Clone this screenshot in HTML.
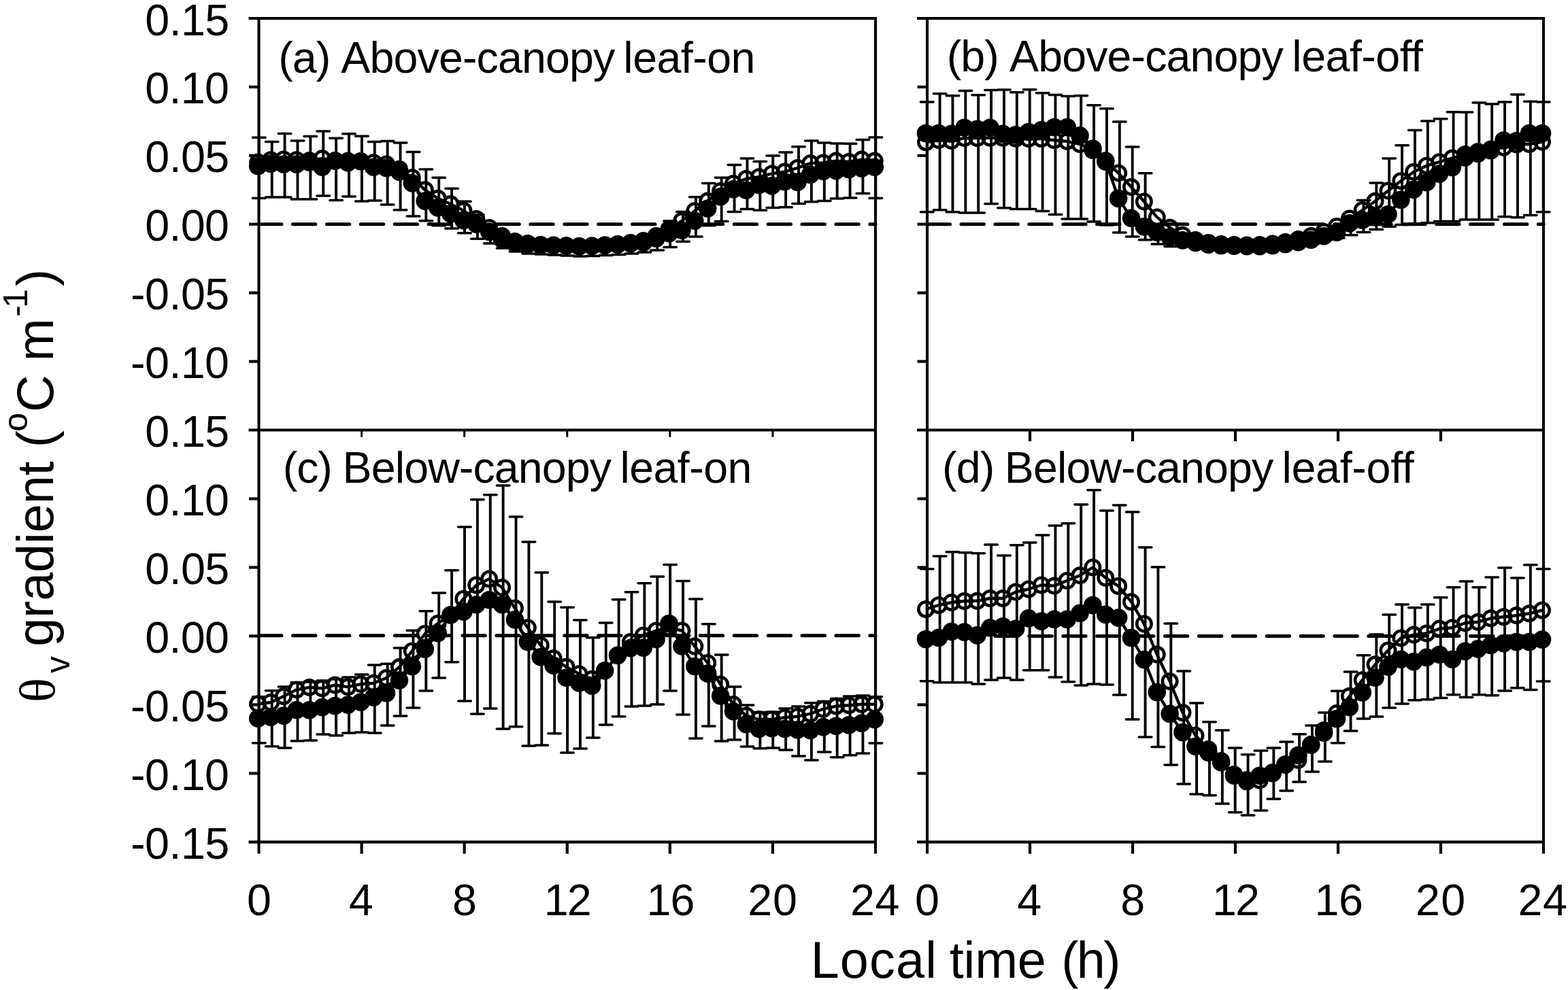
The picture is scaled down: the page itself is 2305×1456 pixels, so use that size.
<!DOCTYPE html>
<html lang="en"><head><meta charset="utf-8"><title>Potential temperature gradient, diel cycle</title>
<style>html,body{margin:0;padding:0;background:#fff}body{width:2305px;height:1456px;overflow:hidden}svg{display:block}text{font-family:'Liberation Sans', sans-serif;fill:#000}</style>
</head><body>
<svg width="2305" height="1456" viewBox="0 0 2305 1456" role="img" aria-label="Diel cycle of potential temperature gradient, four panels">
<rect width="2305" height="1456" fill="#fff"/>
<g id="panel-a" stroke="#000" fill="none">
<line x1="380.6" y1="329.7" x2="1287" y2="329.7" stroke-width="5" stroke-dasharray="33.4 16.5" stroke-linecap="round"/>
<path d="M380.8 202.2V291.5M399.69 208.5V290.1M418.57 196.4V290.1M437.46 207.1V292.9M456.34 200.5V292.9M475.23 192.9V288M494.11 203.3V294.5M513 196.8V289M531.88 200.3V296.1M550.77 208.5V294.9M569.65 207.5V300.9M588.54 210V308.8M607.42 223.5V317.9M626.31 249.1V324.8M645.2 261.2V331.7M664.08 277.3V335.9M682.97 296.3V342.8M701.85 316V351.2M720.74 334.8V358.1M739.62 345.9V365M758.51 351.4V370M777.39 353.2V373M796.28 354.5V374M815.16 354.9V375M834.05 355.6V376M852.94 356.3V377M871.82 355.9V376.5M890.71 354.9V375.5M909.59 353.5V374.5M928.48 352.1V373M947.36 350.7V371M966.25 344.5V368M985.13 325V363.4M1004.02 311.6V355.3M1022.9 289.7V348M1041.79 269.5V331.7M1060.67 261.2V325.5M1079.56 242.5V311.6M1098.45 232.9V307.4M1117.33 237.6V309.2M1136.22 229V305.4M1155.1 223.9V304.7M1173.99 215.8V299.5M1192.87 207.1V296.8M1211.76 210V295.4M1230.64 211V291.9M1249.53 211.2V291.1M1268.41 205.4V284.5M1287.3 201.9V291.5" stroke-width="3.9" stroke-linecap="butt"/>
<path d="M371.5 202.2h18.6M371.5 291.5h18.6M390.39 208.5h18.6M390.39 290.1h18.6M409.27 196.4h18.6M409.27 290.1h18.6M428.16 207.1h18.6M428.16 292.9h18.6M447.04 200.5h18.6M447.04 292.9h18.6M465.93 192.9h18.6M465.93 288h18.6M484.81 203.3h18.6M484.81 294.5h18.6M503.7 196.8h18.6M503.7 289h18.6M522.58 200.3h18.6M522.58 296.1h18.6M541.47 208.5h18.6M541.47 294.9h18.6M560.35 207.5h18.6M560.35 300.9h18.6M579.24 210h18.6M579.24 308.8h18.6M598.12 223.5h18.6M598.12 317.9h18.6M617.01 249.1h18.6M617.01 324.8h18.6M635.9 261.2h18.6M635.9 331.7h18.6M654.78 277.3h18.6M654.78 335.9h18.6M673.67 296.3h18.6M673.67 342.8h18.6M692.55 316h18.6M692.55 351.2h18.6M711.44 334.8h18.6M711.44 358.1h18.6M730.32 345.9h18.6M730.32 365h18.6M749.21 351.4h18.6M749.21 370h18.6M768.09 353.2h18.6M768.09 373h18.6M786.98 354.5h18.6M786.98 374h18.6M805.86 354.9h18.6M805.86 375h18.6M824.75 355.6h18.6M824.75 376h18.6M843.64 356.3h18.6M843.64 377h18.6M862.52 355.9h18.6M862.52 376.5h18.6M881.41 354.9h18.6M881.41 375.5h18.6M900.29 353.5h18.6M900.29 374.5h18.6M919.18 352.1h18.6M919.18 373h18.6M938.06 350.7h18.6M938.06 371h18.6M956.95 344.5h18.6M956.95 368h18.6M975.83 325h18.6M975.83 363.4h18.6M994.72 311.6h18.6M994.72 355.3h18.6M1013.6 289.7h18.6M1013.6 348h18.6M1032.49 269.5h18.6M1032.49 331.7h18.6M1051.38 261.2h18.6M1051.38 325.5h18.6M1070.26 242.5h18.6M1070.26 311.6h18.6M1089.15 232.9h18.6M1089.15 307.4h18.6M1108.03 237.6h18.6M1108.03 309.2h18.6M1126.92 229h18.6M1126.92 305.4h18.6M1145.8 223.9h18.6M1145.8 304.7h18.6M1164.69 215.8h18.6M1164.69 299.5h18.6M1183.57 207.1h18.6M1183.57 296.8h18.6M1202.46 210h18.6M1202.46 295.4h18.6M1221.34 211h18.6M1221.34 291.9h18.6M1240.23 211.2h18.6M1240.23 291.1h18.6M1259.11 205.4h18.6M1259.11 284.5h18.6M1278 201.9h18.6M1278 291.5h18.6" stroke-width="3.5" stroke-linecap="round"/>
<polyline points="379.2,238.6 398.09,235.2 416.97,234.5 435.86,235.2 454.74,235.9 473.63,233.1 492.51,236 511.4,236.5 530.28,237.2 549.17,239.3 568.05,241.4 586.94,248.7 605.83,261.2 624.71,279.3 643.6,291.8 662.48,300.1 681.37,309.8 700.25,322 719.14,335 738.02,347 756.91,355 775.79,358 794.68,360 813.56,361 832.45,361.5 851.34,362 870.22,361.5 889.11,360.5 907.99,359 926.88,357 945.76,354 964.65,347 983.53,337 1002.42,324.8 1021.3,310.2 1040.19,295.6 1059.08,281.1 1077.96,270 1096.85,263 1115.73,260.2 1134.62,255.4 1153.5,252.6 1172.39,247 1191.27,240.1 1210.16,239.4 1229.04,236.6 1247.93,238 1266.81,234.6 1285.7,236.6" stroke-width="4.4" stroke-linejoin="round"/>
<polyline points="379.2,244.3 398.09,240.8 416.97,241.5 435.86,241.5 454.74,238.7 473.63,245.7 492.51,236.6 511.4,239.4 530.28,237.3 549.17,245.7 568.05,247 586.94,252.6 605.83,269.3 624.71,295.6 643.6,305.4 662.48,314.4 681.37,324.1 700.25,329.7 719.14,340.8 738.02,351.9 756.91,357.4 775.79,359.2 794.68,360.5 813.56,360.9 832.45,361.6 851.34,362.3 870.22,361.9 889.11,360.9 907.99,359.5 926.88,358.1 945.76,356.7 964.65,350.5 983.53,343 1002.42,338.7 1021.3,324.8 1040.19,306.7 1059.08,289.4 1077.96,278.3 1096.85,279.7 1115.73,272 1134.62,273.4 1153.5,267.2 1172.39,267.9 1191.27,256.8 1210.16,251.9 1229.04,251.2 1247.93,249.1 1266.81,247.7 1285.7,245.7" stroke-width="4.4" stroke-linejoin="round"/>
<g stroke-width="4.6"><circle cx="379.2" cy="238.6" r="10.7"/><circle cx="398.09" cy="235.2" r="10.7"/><circle cx="416.97" cy="234.5" r="10.7"/><circle cx="435.86" cy="235.2" r="10.7"/><circle cx="454.74" cy="235.9" r="10.7"/><circle cx="473.63" cy="233.1" r="10.7"/><circle cx="492.51" cy="236" r="10.7"/><circle cx="511.4" cy="236.5" r="10.7"/><circle cx="530.28" cy="237.2" r="10.7"/><circle cx="549.17" cy="239.3" r="10.7"/><circle cx="568.05" cy="241.4" r="10.7"/><circle cx="586.94" cy="248.7" r="10.7"/><circle cx="605.83" cy="261.2" r="10.7"/><circle cx="624.71" cy="279.3" r="10.7"/><circle cx="643.6" cy="291.8" r="10.7"/><circle cx="662.48" cy="300.1" r="10.7"/><circle cx="681.37" cy="309.8" r="10.7"/><circle cx="700.25" cy="322" r="10.7"/><circle cx="719.14" cy="335" r="10.7"/><circle cx="738.02" cy="347" r="10.7"/><circle cx="756.91" cy="355" r="10.7"/><circle cx="775.79" cy="358" r="10.7"/><circle cx="794.68" cy="360" r="10.7"/><circle cx="813.56" cy="361" r="10.7"/><circle cx="832.45" cy="361.5" r="10.7"/><circle cx="851.34" cy="362" r="10.7"/><circle cx="870.22" cy="361.5" r="10.7"/><circle cx="889.11" cy="360.5" r="10.7"/><circle cx="907.99" cy="359" r="10.7"/><circle cx="926.88" cy="357" r="10.7"/><circle cx="945.76" cy="354" r="10.7"/><circle cx="964.65" cy="347" r="10.7"/><circle cx="983.53" cy="337" r="10.7"/><circle cx="1002.42" cy="324.8" r="10.7"/><circle cx="1021.3" cy="310.2" r="10.7"/><circle cx="1040.19" cy="295.6" r="10.7"/><circle cx="1059.08" cy="281.1" r="10.7"/><circle cx="1077.96" cy="270" r="10.7"/><circle cx="1096.85" cy="263" r="10.7"/><circle cx="1115.73" cy="260.2" r="10.7"/><circle cx="1134.62" cy="255.4" r="10.7"/><circle cx="1153.5" cy="252.6" r="10.7"/><circle cx="1172.39" cy="247" r="10.7"/><circle cx="1191.27" cy="240.1" r="10.7"/><circle cx="1210.16" cy="239.4" r="10.7"/><circle cx="1229.04" cy="236.6" r="10.7"/><circle cx="1247.93" cy="238" r="10.7"/><circle cx="1266.81" cy="234.6" r="10.7"/><circle cx="1285.7" cy="236.6" r="10.7"/></g>
<g fill="#000" stroke="none"><circle cx="379.2" cy="244.3" r="13.3"/><circle cx="398.09" cy="240.8" r="13.3"/><circle cx="416.97" cy="241.5" r="13.3"/><circle cx="435.86" cy="241.5" r="13.3"/><circle cx="454.74" cy="238.7" r="13.3"/><circle cx="473.63" cy="245.7" r="13.3"/><circle cx="492.51" cy="236.6" r="13.3"/><circle cx="511.4" cy="239.4" r="13.3"/><circle cx="530.28" cy="237.3" r="13.3"/><circle cx="549.17" cy="245.7" r="13.3"/><circle cx="568.05" cy="247" r="13.3"/><circle cx="586.94" cy="252.6" r="13.3"/><circle cx="605.83" cy="269.3" r="13.3"/><circle cx="624.71" cy="295.6" r="13.3"/><circle cx="643.6" cy="305.4" r="13.3"/><circle cx="662.48" cy="314.4" r="13.3"/><circle cx="681.37" cy="324.1" r="13.3"/><circle cx="700.25" cy="329.7" r="13.3"/><circle cx="719.14" cy="340.8" r="13.3"/><circle cx="738.02" cy="351.9" r="13.3"/><circle cx="756.91" cy="357.4" r="13.3"/><circle cx="775.79" cy="359.2" r="13.3"/><circle cx="794.68" cy="360.5" r="13.3"/><circle cx="813.56" cy="360.9" r="13.3"/><circle cx="832.45" cy="361.6" r="13.3"/><circle cx="851.34" cy="362.3" r="13.3"/><circle cx="870.22" cy="361.9" r="13.3"/><circle cx="889.11" cy="360.9" r="13.3"/><circle cx="907.99" cy="359.5" r="13.3"/><circle cx="926.88" cy="358.1" r="13.3"/><circle cx="945.76" cy="356.7" r="13.3"/><circle cx="964.65" cy="350.5" r="13.3"/><circle cx="983.53" cy="343" r="13.3"/><circle cx="1002.42" cy="338.7" r="13.3"/><circle cx="1021.3" cy="324.8" r="13.3"/><circle cx="1040.19" cy="306.7" r="13.3"/><circle cx="1059.08" cy="289.4" r="13.3"/><circle cx="1077.96" cy="278.3" r="13.3"/><circle cx="1096.85" cy="279.7" r="13.3"/><circle cx="1115.73" cy="272" r="13.3"/><circle cx="1134.62" cy="273.4" r="13.3"/><circle cx="1153.5" cy="267.2" r="13.3"/><circle cx="1172.39" cy="267.9" r="13.3"/><circle cx="1191.27" cy="256.8" r="13.3"/><circle cx="1210.16" cy="251.9" r="13.3"/><circle cx="1229.04" cy="251.2" r="13.3"/><circle cx="1247.93" cy="249.1" r="13.3"/><circle cx="1266.81" cy="247.7" r="13.3"/><circle cx="1285.7" cy="245.7" r="13.3"/></g>
</g>
<g id="panel-b" stroke="#000" fill="none">
<line x1="1363.1" y1="329.7" x2="2269" y2="329.7" stroke-width="5" stroke-dasharray="33.4 16.5" stroke-linecap="round"/>
<path d="M1362.7 150V311.8M1381.58 137.8V308.7M1400.45 140.8V311.8M1419.33 133.6V313.1M1438.2 139.8V313.1M1457.08 132.6V299.7M1475.95 131.9V305.8M1494.83 135.7V307.6M1513.7 131.8V307.6M1532.58 136.7V310.6M1551.45 139.6V315.6M1570.33 141.6V321.9M1589.2 140.8V321.9M1608.08 154.7V326.1M1626.95 159.7V331M1645.83 179V341.9M1664.7 216V347.9M1683.58 254.8V352.7M1702.45 337.6V359M1721.33 344.5V362.4M1740.2 349.4V359.4M1759.08 352.9V362.9M1777.95 355.7V365.7M1796.83 357V367M1815.7 357.7V367.7M1834.58 358.2V368.2M1853.45 358.2V368.2M1872.33 357V367M1891.2 355V365M1910.08 352.2V362.2M1928.95 348.7V358.7M1947.83 343.2V353.2M1966.7 337.6V350M1985.58 324.4V345.8M2004.45 294.6V341.6M2023.33 269V337.4M2042.2 232.9V333.3M2061.07 213.8V330.5M2079.95 191.5V329M2098.82 178V327.7M2117.7 174.8V325.6M2136.57 164.8V325.6M2155.45 165.1V322.9M2174.32 151V322.9M2193.2 153V322.9M2212.07 150V318.7M2230.95 138.9V319.7M2249.82 149.3V316.6M2268.7 150V311.8" stroke-width="3.9" stroke-linecap="butt"/>
<path d="M1353.4 150h18.6M1353.4 311.8h18.6M1372.28 137.8h18.6M1372.28 308.7h18.6M1391.15 140.8h18.6M1391.15 311.8h18.6M1410.03 133.6h18.6M1410.03 313.1h18.6M1428.9 139.8h18.6M1428.9 313.1h18.6M1447.78 132.6h18.6M1447.78 299.7h18.6M1466.65 131.9h18.6M1466.65 305.8h18.6M1485.53 135.7h18.6M1485.53 307.6h18.6M1504.4 131.8h18.6M1504.4 307.6h18.6M1523.28 136.7h18.6M1523.28 310.6h18.6M1542.15 139.6h18.6M1542.15 315.6h18.6M1561.03 141.6h18.6M1561.03 321.9h18.6M1579.9 140.8h18.6M1579.9 321.9h18.6M1598.78 154.7h18.6M1598.78 326.1h18.6M1617.65 159.7h18.6M1617.65 331h18.6M1636.53 179h18.6M1636.53 341.9h18.6M1655.4 216h18.6M1655.4 347.9h18.6M1674.28 254.8h18.6M1674.28 352.7h18.6M1693.15 337.6h18.6M1693.15 359h18.6M1712.03 344.5h18.6M1712.03 362.4h18.6M1730.9 349.4h18.6M1730.9 359.4h18.6M1749.78 352.9h18.6M1749.78 362.9h18.6M1768.65 355.7h18.6M1768.65 365.7h18.6M1787.53 357h18.6M1787.53 367h18.6M1806.4 357.7h18.6M1806.4 367.7h18.6M1825.28 358.2h18.6M1825.28 368.2h18.6M1844.15 358.2h18.6M1844.15 368.2h18.6M1863.03 357h18.6M1863.03 367h18.6M1881.9 355h18.6M1881.9 365h18.6M1900.78 352.2h18.6M1900.78 362.2h18.6M1919.65 348.7h18.6M1919.65 358.7h18.6M1938.53 343.2h18.6M1938.53 353.2h18.6M1957.4 337.6h18.6M1957.4 350h18.6M1976.28 324.4h18.6M1976.28 345.8h18.6M1995.15 294.6h18.6M1995.15 341.6h18.6M2014.03 269h18.6M2014.03 337.4h18.6M2032.9 232.9h18.6M2032.9 333.3h18.6M2051.77 213.8h18.6M2051.77 330.5h18.6M2070.65 191.5h18.6M2070.65 329h18.6M2089.52 178h18.6M2089.52 327.7h18.6M2108.4 174.8h18.6M2108.4 325.6h18.6M2127.27 164.8h18.6M2127.27 325.6h18.6M2146.15 165.1h18.6M2146.15 322.9h18.6M2165.02 151h18.6M2165.02 322.9h18.6M2183.9 153h18.6M2183.9 322.9h18.6M2202.77 150h18.6M2202.77 318.7h18.6M2221.65 138.9h18.6M2221.65 319.7h18.6M2240.52 149.3h18.6M2240.52 316.6h18.6M2259.4 150h18.6M2259.4 311.8h18.6" stroke-width="3.5" stroke-linecap="round"/>
<polyline points="1361,209.3 1379.88,206 1398.75,207 1417.62,203.1 1436.5,203.1 1455.38,202.7 1474.25,202.7 1493.12,203.8 1512,204.1 1530.88,204.1 1549.75,206.2 1568.62,207.9 1587.5,212.1 1606.38,221 1625.25,238 1644.12,254.4 1663,275 1681.88,296.5 1700.75,319.4 1719.62,334.7 1738.5,346 1757.38,353 1776.25,357 1795.12,359 1814,360 1832.88,360.5 1851.75,360 1870.62,358.5 1889.5,356 1908.38,352 1927.25,347 1946.12,341 1965,333 1983.88,321.5 2002.75,309 2021.62,295.8 2040.5,280.5 2059.38,266 2078.25,252.8 2097.12,243.7 2116,238.2 2134.88,232.6 2153.75,227 2172.62,223 2191.5,219.5 2210.38,216.9 2229.25,212.6 2248.12,212 2267,208.5" stroke-width="4.4" stroke-linejoin="round"/>
<polyline points="1361,196 1379.88,196 1398.75,196.8 1417.62,187.7 1436.5,189.8 1455.38,187.7 1474.25,196.8 1493.12,198.2 1512,194 1530.88,191.2 1549.75,187 1568.62,187 1587.5,199.4 1606.38,218.5 1625.25,236.6 1644.12,291.9 1663,320.8 1681.88,333.3 1700.75,341.6 1719.62,348.5 1738.5,353.4 1757.38,356.9 1776.25,359.7 1795.12,361 1814,361.7 1832.88,362.2 1851.75,362.2 1870.62,361 1889.5,359 1908.38,356.2 1927.25,352.7 1946.12,347.2 1965,341.6 1983.88,328.4 2002.75,323.6 2021.62,319.4 2040.5,315.2 2059.38,293.8 2078.25,278.9 2097.12,268.2 2116,255.6 2134.88,246 2153.75,231.5 2172.62,225.8 2191.5,221.3 2210.38,206.5 2229.25,207.2 2248.12,196 2267,196" stroke-width="4.4" stroke-linejoin="round"/>
<g stroke-width="4.6"><circle cx="1361" cy="209.3" r="10.7"/><circle cx="1379.88" cy="206" r="10.7"/><circle cx="1398.75" cy="207" r="10.7"/><circle cx="1417.62" cy="203.1" r="10.7"/><circle cx="1436.5" cy="203.1" r="10.7"/><circle cx="1455.38" cy="202.7" r="10.7"/><circle cx="1474.25" cy="202.7" r="10.7"/><circle cx="1493.12" cy="203.8" r="10.7"/><circle cx="1512" cy="204.1" r="10.7"/><circle cx="1530.88" cy="204.1" r="10.7"/><circle cx="1549.75" cy="206.2" r="10.7"/><circle cx="1568.62" cy="207.9" r="10.7"/><circle cx="1587.5" cy="212.1" r="10.7"/><circle cx="1606.38" cy="221" r="10.7"/><circle cx="1625.25" cy="238" r="10.7"/><circle cx="1644.12" cy="254.4" r="10.7"/><circle cx="1663" cy="275" r="10.7"/><circle cx="1681.88" cy="296.5" r="10.7"/><circle cx="1700.75" cy="319.4" r="10.7"/><circle cx="1719.62" cy="334.7" r="10.7"/><circle cx="1738.5" cy="346" r="10.7"/><circle cx="1757.38" cy="353" r="10.7"/><circle cx="1776.25" cy="357" r="10.7"/><circle cx="1795.12" cy="359" r="10.7"/><circle cx="1814" cy="360" r="10.7"/><circle cx="1832.88" cy="360.5" r="10.7"/><circle cx="1851.75" cy="360" r="10.7"/><circle cx="1870.62" cy="358.5" r="10.7"/><circle cx="1889.5" cy="356" r="10.7"/><circle cx="1908.38" cy="352" r="10.7"/><circle cx="1927.25" cy="347" r="10.7"/><circle cx="1946.12" cy="341" r="10.7"/><circle cx="1965" cy="333" r="10.7"/><circle cx="1983.88" cy="321.5" r="10.7"/><circle cx="2002.75" cy="309" r="10.7"/><circle cx="2021.62" cy="295.8" r="10.7"/><circle cx="2040.5" cy="280.5" r="10.7"/><circle cx="2059.38" cy="266" r="10.7"/><circle cx="2078.25" cy="252.8" r="10.7"/><circle cx="2097.12" cy="243.7" r="10.7"/><circle cx="2116" cy="238.2" r="10.7"/><circle cx="2134.88" cy="232.6" r="10.7"/><circle cx="2153.75" cy="227" r="10.7"/><circle cx="2172.62" cy="223" r="10.7"/><circle cx="2191.5" cy="219.5" r="10.7"/><circle cx="2210.38" cy="216.9" r="10.7"/><circle cx="2229.25" cy="212.6" r="10.7"/><circle cx="2248.12" cy="212" r="10.7"/><circle cx="2267" cy="208.5" r="10.7"/></g>
<g fill="#000" stroke="none"><circle cx="1361" cy="196" r="13.3"/><circle cx="1379.88" cy="196" r="13.3"/><circle cx="1398.75" cy="196.8" r="13.3"/><circle cx="1417.62" cy="187.7" r="13.3"/><circle cx="1436.5" cy="189.8" r="13.3"/><circle cx="1455.38" cy="187.7" r="13.3"/><circle cx="1474.25" cy="196.8" r="13.3"/><circle cx="1493.12" cy="198.2" r="13.3"/><circle cx="1512" cy="194" r="13.3"/><circle cx="1530.88" cy="191.2" r="13.3"/><circle cx="1549.75" cy="187" r="13.3"/><circle cx="1568.62" cy="187" r="13.3"/><circle cx="1587.5" cy="199.4" r="13.3"/><circle cx="1606.38" cy="218.5" r="13.3"/><circle cx="1625.25" cy="236.6" r="13.3"/><circle cx="1644.12" cy="291.9" r="13.3"/><circle cx="1663" cy="320.8" r="13.3"/><circle cx="1681.88" cy="333.3" r="13.3"/><circle cx="1700.75" cy="341.6" r="13.3"/><circle cx="1719.62" cy="348.5" r="13.3"/><circle cx="1738.5" cy="353.4" r="13.3"/><circle cx="1757.38" cy="356.9" r="13.3"/><circle cx="1776.25" cy="359.7" r="13.3"/><circle cx="1795.12" cy="361" r="13.3"/><circle cx="1814" cy="361.7" r="13.3"/><circle cx="1832.88" cy="362.2" r="13.3"/><circle cx="1851.75" cy="362.2" r="13.3"/><circle cx="1870.62" cy="361" r="13.3"/><circle cx="1889.5" cy="359" r="13.3"/><circle cx="1908.38" cy="356.2" r="13.3"/><circle cx="1927.25" cy="352.7" r="13.3"/><circle cx="1946.12" cy="347.2" r="13.3"/><circle cx="1965" cy="341.6" r="13.3"/><circle cx="1983.88" cy="328.4" r="13.3"/><circle cx="2002.75" cy="323.6" r="13.3"/><circle cx="2021.62" cy="319.4" r="13.3"/><circle cx="2040.5" cy="315.2" r="13.3"/><circle cx="2059.38" cy="293.8" r="13.3"/><circle cx="2078.25" cy="278.9" r="13.3"/><circle cx="2097.12" cy="268.2" r="13.3"/><circle cx="2116" cy="255.6" r="13.3"/><circle cx="2134.88" cy="246" r="13.3"/><circle cx="2153.75" cy="231.5" r="13.3"/><circle cx="2172.62" cy="225.8" r="13.3"/><circle cx="2191.5" cy="221.3" r="13.3"/><circle cx="2210.38" cy="206.5" r="13.3"/><circle cx="2229.25" cy="207.2" r="13.3"/><circle cx="2248.12" cy="196" r="13.3"/><circle cx="2267" cy="196" r="13.3"/></g>
</g>
<g id="panel-c" stroke="#000" fill="none">
<line x1="380.6" y1="934.8" x2="1287" y2="934.8" stroke-width="5" stroke-dasharray="33.4 16.5" stroke-linecap="round"/>
<path d="M380.8 1024.7V1092.8M399.69 1015.8V1097.7M418.57 1010V1100M437.46 1003.7V1089.8M456.34 1003V1089.1M475.23 1001V1079.9M494.11 999V1081.7M513 996V1077.9M531.88 991.9V1076.9M550.77 978V1077.9M569.65 976.2V1066.9M588.54 952.9V1053M607.42 927.3V1040.9M626.31 898.7V1015.9M645.2 872V997M664.08 838.8V973.8M682.97 775V1030.9M701.85 734.7V1050M720.74 727.8V1042M739.62 713.9V1071.9M758.51 760V1068.8M777.39 796.9V1096.9M796.28 841.9V1095.9M815.16 885V1078.8M834.05 893.3V1107M852.94 912.1V1101M871.82 937.7V1085.1M890.71 916V1065.9M909.59 881.8V1053.8M928.48 870.8V1039M947.36 857.8V1038M966.25 847.9V1036M985.13 830.5V1016M1004.02 854.6V1051.1M1022.9 881V1086M1041.79 917.7V1068M1060.67 962.9V1089.9M1079.56 1009.9V1087.9M1098.45 1036.9V1097.9M1117.33 1047.6V1100.8M1136.22 1046.9V1099.9M1155.1 1042V1102.9M1173.99 1039V1111.9M1192.87 1033.7V1118M1211.76 1031.6V1105.9M1230.64 1027.5V1113.8M1249.53 1024V1110.8M1268.41 1022.9V1108M1287.3 1024.7V1093.1" stroke-width="3.9" stroke-linecap="butt"/>
<path d="M371.5 1024.7h18.6M371.5 1092.8h18.6M390.39 1015.8h18.6M390.39 1097.7h18.6M409.27 1010h18.6M409.27 1100h18.6M428.16 1003.7h18.6M428.16 1089.8h18.6M447.04 1003h18.6M447.04 1089.1h18.6M465.93 1001h18.6M465.93 1079.9h18.6M484.81 999h18.6M484.81 1081.7h18.6M503.7 996h18.6M503.7 1077.9h18.6M522.58 991.9h18.6M522.58 1076.9h18.6M541.47 978h18.6M541.47 1077.9h18.6M560.35 976.2h18.6M560.35 1066.9h18.6M579.24 952.9h18.6M579.24 1053h18.6M598.12 927.3h18.6M598.12 1040.9h18.6M617.01 898.7h18.6M617.01 1015.9h18.6M635.9 872h18.6M635.9 997h18.6M654.78 838.8h18.6M654.78 973.8h18.6M673.67 775h18.6M673.67 1030.9h18.6M692.55 734.7h18.6M692.55 1050h18.6M711.44 727.8h18.6M711.44 1042h18.6M730.32 713.9h18.6M730.32 1071.9h18.6M749.21 760h18.6M749.21 1068.8h18.6M768.09 796.9h18.6M768.09 1096.9h18.6M786.98 841.9h18.6M786.98 1095.9h18.6M805.86 885h18.6M805.86 1078.8h18.6M824.75 893.3h18.6M824.75 1107h18.6M843.64 912.1h18.6M843.64 1101h18.6M862.52 937.7h18.6M862.52 1085.1h18.6M881.41 916h18.6M881.41 1065.9h18.6M900.29 881.8h18.6M900.29 1053.8h18.6M919.18 870.8h18.6M919.18 1039h18.6M938.06 857.8h18.6M938.06 1038h18.6M956.95 847.9h18.6M956.95 1036h18.6M975.83 830.5h18.6M975.83 1016h18.6M994.72 854.6h18.6M994.72 1051.1h18.6M1013.6 881h18.6M1013.6 1086h18.6M1032.49 917.7h18.6M1032.49 1068h18.6M1051.38 962.9h18.6M1051.38 1089.9h18.6M1070.26 1009.9h18.6M1070.26 1087.9h18.6M1089.15 1036.9h18.6M1089.15 1097.9h18.6M1108.03 1047.6h18.6M1108.03 1100.8h18.6M1126.92 1046.9h18.6M1126.92 1099.9h18.6M1145.8 1042h18.6M1145.8 1102.9h18.6M1164.69 1039h18.6M1164.69 1111.9h18.6M1183.57 1033.7h18.6M1183.57 1118h18.6M1202.46 1031.6h18.6M1202.46 1105.9h18.6M1221.34 1027.5h18.6M1221.34 1113.8h18.6M1240.23 1024h18.6M1240.23 1110.8h18.6M1259.11 1022.9h18.6M1259.11 1108h18.6M1278 1024.7h18.6M1278 1093.1h18.6" stroke-width="3.5" stroke-linecap="round"/>
<polyline points="379.2,1035.2 398.09,1033 416.97,1024.1 435.86,1014.4 454.74,1010.9 473.63,1012.4 492.51,1007.5 511.4,1010.2 530.28,1006.1 549.17,1004.7 568.05,997 586.94,981.1 605.83,957.5 624.71,932 643.6,917 662.48,904.4 681.37,880.7 700.25,860.5 719.14,851.5 738.02,864 756.91,894.5 775.79,923.2 794.68,948.9 813.56,968.3 832.45,980.8 851.34,991.2 870.22,998.8 889.11,986.4 907.99,963.8 926.88,944.1 945.76,934.4 964.65,927.5 983.53,923 1002.42,927.5 1021.3,950.5 1040.19,975 1059.08,1006.6 1077.96,1036 1096.85,1052.5 1115.73,1058 1134.62,1058 1153.5,1055.2 1172.39,1053.8 1191.27,1049.7 1210.16,1042.7 1229.04,1038.6 1247.93,1037.2 1266.81,1035.8 1285.7,1035.8" stroke-width="4.4" stroke-linejoin="round"/>
<polyline points="379.2,1056.7 398.09,1054.7 416.97,1052.6 435.86,1044.2 454.74,1044.3 473.63,1040.1 492.51,1038 511.4,1036.6 530.28,1032.5 549.17,1025.5 568.05,1019.3 586.94,1000.5 605.83,980 624.71,954.5 643.6,931 662.48,904.4 681.37,899.6 700.25,889.2 719.14,882.2 738.02,889.2 756.91,911.4 775.79,944 794.68,966.2 813.56,978.7 832.45,996.7 851.34,1004.4 870.22,1008.5 889.11,986.4 907.99,963.8 926.88,953.1 945.76,952.5 964.65,940 983.53,917 1002.42,950.4 1021.3,980 1040.19,990.6 1059.08,1023.3 1077.96,1046.2 1096.85,1065 1115.73,1071.9 1134.62,1071.2 1153.5,1071.9 1172.39,1073.3 1191.27,1074 1210.16,1069.1 1229.04,1067.7 1247.93,1066.3 1266.81,1063.6 1285.7,1058" stroke-width="4.4" stroke-linejoin="round"/>
<g stroke-width="4.6"><circle cx="379.2" cy="1035.2" r="10.7"/><circle cx="398.09" cy="1033" r="10.7"/><circle cx="416.97" cy="1024.1" r="10.7"/><circle cx="435.86" cy="1014.4" r="10.7"/><circle cx="454.74" cy="1010.9" r="10.7"/><circle cx="473.63" cy="1012.4" r="10.7"/><circle cx="492.51" cy="1007.5" r="10.7"/><circle cx="511.4" cy="1010.2" r="10.7"/><circle cx="530.28" cy="1006.1" r="10.7"/><circle cx="549.17" cy="1004.7" r="10.7"/><circle cx="568.05" cy="997" r="10.7"/><circle cx="586.94" cy="981.1" r="10.7"/><circle cx="605.83" cy="957.5" r="10.7"/><circle cx="624.71" cy="932" r="10.7"/><circle cx="643.6" cy="917" r="10.7"/><circle cx="662.48" cy="904.4" r="10.7"/><circle cx="681.37" cy="880.7" r="10.7"/><circle cx="700.25" cy="860.5" r="10.7"/><circle cx="719.14" cy="851.5" r="10.7"/><circle cx="738.02" cy="864" r="10.7"/><circle cx="756.91" cy="894.5" r="10.7"/><circle cx="775.79" cy="923.2" r="10.7"/><circle cx="794.68" cy="948.9" r="10.7"/><circle cx="813.56" cy="968.3" r="10.7"/><circle cx="832.45" cy="980.8" r="10.7"/><circle cx="851.34" cy="991.2" r="10.7"/><circle cx="870.22" cy="998.8" r="10.7"/><circle cx="889.11" cy="986.4" r="10.7"/><circle cx="907.99" cy="963.8" r="10.7"/><circle cx="926.88" cy="944.1" r="10.7"/><circle cx="945.76" cy="934.4" r="10.7"/><circle cx="964.65" cy="927.5" r="10.7"/><circle cx="983.53" cy="923" r="10.7"/><circle cx="1002.42" cy="927.5" r="10.7"/><circle cx="1021.3" cy="950.5" r="10.7"/><circle cx="1040.19" cy="975" r="10.7"/><circle cx="1059.08" cy="1006.6" r="10.7"/><circle cx="1077.96" cy="1036" r="10.7"/><circle cx="1096.85" cy="1052.5" r="10.7"/><circle cx="1115.73" cy="1058" r="10.7"/><circle cx="1134.62" cy="1058" r="10.7"/><circle cx="1153.5" cy="1055.2" r="10.7"/><circle cx="1172.39" cy="1053.8" r="10.7"/><circle cx="1191.27" cy="1049.7" r="10.7"/><circle cx="1210.16" cy="1042.7" r="10.7"/><circle cx="1229.04" cy="1038.6" r="10.7"/><circle cx="1247.93" cy="1037.2" r="10.7"/><circle cx="1266.81" cy="1035.8" r="10.7"/><circle cx="1285.7" cy="1035.8" r="10.7"/></g>
<g fill="#000" stroke="none"><circle cx="379.2" cy="1056.7" r="13.3"/><circle cx="398.09" cy="1054.7" r="13.3"/><circle cx="416.97" cy="1052.6" r="13.3"/><circle cx="435.86" cy="1044.2" r="13.3"/><circle cx="454.74" cy="1044.3" r="13.3"/><circle cx="473.63" cy="1040.1" r="13.3"/><circle cx="492.51" cy="1038" r="13.3"/><circle cx="511.4" cy="1036.6" r="13.3"/><circle cx="530.28" cy="1032.5" r="13.3"/><circle cx="549.17" cy="1025.5" r="13.3"/><circle cx="568.05" cy="1019.3" r="13.3"/><circle cx="586.94" cy="1000.5" r="13.3"/><circle cx="605.83" cy="980" r="13.3"/><circle cx="624.71" cy="954.5" r="13.3"/><circle cx="643.6" cy="931" r="13.3"/><circle cx="662.48" cy="904.4" r="13.3"/><circle cx="681.37" cy="899.6" r="13.3"/><circle cx="700.25" cy="889.2" r="13.3"/><circle cx="719.14" cy="882.2" r="13.3"/><circle cx="738.02" cy="889.2" r="13.3"/><circle cx="756.91" cy="911.4" r="13.3"/><circle cx="775.79" cy="944" r="13.3"/><circle cx="794.68" cy="966.2" r="13.3"/><circle cx="813.56" cy="978.7" r="13.3"/><circle cx="832.45" cy="996.7" r="13.3"/><circle cx="851.34" cy="1004.4" r="13.3"/><circle cx="870.22" cy="1008.5" r="13.3"/><circle cx="889.11" cy="986.4" r="13.3"/><circle cx="907.99" cy="963.8" r="13.3"/><circle cx="926.88" cy="953.1" r="13.3"/><circle cx="945.76" cy="952.5" r="13.3"/><circle cx="964.65" cy="940" r="13.3"/><circle cx="983.53" cy="917" r="13.3"/><circle cx="1002.42" cy="950.4" r="13.3"/><circle cx="1021.3" cy="980" r="13.3"/><circle cx="1040.19" cy="990.6" r="13.3"/><circle cx="1059.08" cy="1023.3" r="13.3"/><circle cx="1077.96" cy="1046.2" r="13.3"/><circle cx="1096.85" cy="1065" r="13.3"/><circle cx="1115.73" cy="1071.9" r="13.3"/><circle cx="1134.62" cy="1071.2" r="13.3"/><circle cx="1153.5" cy="1071.9" r="13.3"/><circle cx="1172.39" cy="1073.3" r="13.3"/><circle cx="1191.27" cy="1074" r="13.3"/><circle cx="1210.16" cy="1069.1" r="13.3"/><circle cx="1229.04" cy="1067.7" r="13.3"/><circle cx="1247.93" cy="1066.3" r="13.3"/><circle cx="1266.81" cy="1063.6" r="13.3"/><circle cx="1285.7" cy="1058" r="13.3"/></g>
</g>
<g id="panel-d" stroke="#000" fill="none">
<line x1="1363.1" y1="935.4" x2="2269" y2="935.4" stroke-width="5" stroke-dasharray="33.4 16.5" stroke-linecap="round"/>
<path d="M1362.7 836.7V1001.7M1381.58 818V1003.8M1400.45 811.8V1003.8M1419.33 812.7V1003.8M1438.2 813.8V1005.9M1457.08 800.9V999.9M1475.95 817V996.9M1494.83 801.8V999.9M1513.7 797.9V985.8M1532.58 787V985.8M1551.45 772.9V995.9M1570.33 769.8V1002.8M1589.2 741.9V1008M1608.08 720.8V1005.9M1626.95 751V1007M1645.83 743V1021.9M1664.7 753V1057.9M1683.58 805V1084M1702.45 834.1V1098.5M1721.33 917V1125M1740.2 987V1152.9M1759.08 1034V1168M1777.95 1061.8V1169.8M1796.83 1074V1181.9M1815.7 1100V1194.8M1834.58 1109.8V1199M1853.45 1103.9V1192M1872.33 1100V1174.9M1891.2 1091V1162.9M1910.08 1079.8V1150.1M1928.95 1066.9V1135.1M1947.83 1047.9V1120.1M1966.7 1016.2V1092.8M1985.58 988V1075M2004.45 963.8V1056.9M2023.33 932.9V1053.9M2042.2 904V1040.9M2061.07 889V1034.9M2079.95 893.8V1029.8M2098.82 889V1028.7M2117.7 878.8V1026.6M2136.57 863.8V1021.7M2155.45 855.1V1025.6M2174.32 863.8V1021.7M2193.2 848.9V1022.8M2212.07 835V1015.9M2230.95 850V1011.7M2249.82 830.8V1014.5M2268.7 836.8V1001.9" stroke-width="3.9" stroke-linecap="butt"/>
<path d="M1353.4 836.7h18.6M1353.4 1001.7h18.6M1372.28 818h18.6M1372.28 1003.8h18.6M1391.15 811.8h18.6M1391.15 1003.8h18.6M1410.03 812.7h18.6M1410.03 1003.8h18.6M1428.9 813.8h18.6M1428.9 1005.9h18.6M1447.78 800.9h18.6M1447.78 999.9h18.6M1466.65 817h18.6M1466.65 996.9h18.6M1485.53 801.8h18.6M1485.53 999.9h18.6M1504.4 797.9h18.6M1504.4 985.8h18.6M1523.28 787h18.6M1523.28 985.8h18.6M1542.15 772.9h18.6M1542.15 995.9h18.6M1561.03 769.8h18.6M1561.03 1002.8h18.6M1579.9 741.9h18.6M1579.9 1008h18.6M1598.78 720.8h18.6M1598.78 1005.9h18.6M1617.65 751h18.6M1617.65 1007h18.6M1636.53 743h18.6M1636.53 1021.9h18.6M1655.4 753h18.6M1655.4 1057.9h18.6M1674.28 805h18.6M1674.28 1084h18.6M1693.15 834.1h18.6M1693.15 1098.5h18.6M1712.03 917h18.6M1712.03 1125h18.6M1730.9 987h18.6M1730.9 1152.9h18.6M1749.78 1034h18.6M1749.78 1168h18.6M1768.65 1061.8h18.6M1768.65 1169.8h18.6M1787.53 1074h18.6M1787.53 1181.9h18.6M1806.4 1100h18.6M1806.4 1194.8h18.6M1825.28 1109.8h18.6M1825.28 1199h18.6M1844.15 1103.9h18.6M1844.15 1192h18.6M1863.03 1100h18.6M1863.03 1174.9h18.6M1881.9 1091h18.6M1881.9 1162.9h18.6M1900.78 1079.8h18.6M1900.78 1150.1h18.6M1919.65 1066.9h18.6M1919.65 1135.1h18.6M1938.53 1047.9h18.6M1938.53 1120.1h18.6M1957.4 1016.2h18.6M1957.4 1092.8h18.6M1976.28 988h18.6M1976.28 1075h18.6M1995.15 963.8h18.6M1995.15 1056.9h18.6M2014.03 932.9h18.6M2014.03 1053.9h18.6M2032.9 904h18.6M2032.9 1040.9h18.6M2051.77 889h18.6M2051.77 1034.9h18.6M2070.65 893.8h18.6M2070.65 1029.8h18.6M2089.52 889h18.6M2089.52 1028.7h18.6M2108.4 878.8h18.6M2108.4 1026.6h18.6M2127.27 863.8h18.6M2127.27 1021.7h18.6M2146.15 855.1h18.6M2146.15 1025.6h18.6M2165.02 863.8h18.6M2165.02 1021.7h18.6M2183.9 848.9h18.6M2183.9 1022.8h18.6M2202.77 835h18.6M2202.77 1015.9h18.6M2221.65 850h18.6M2221.65 1011.7h18.6M2240.52 830.8h18.6M2240.52 1014.5h18.6M2259.4 836.8h18.6M2259.4 1001.9h18.6" stroke-width="3.5" stroke-linecap="round"/>
<polyline points="1361,896 1379.88,890 1398.75,886 1417.62,884 1436.5,883.8 1455.38,880 1474.25,880 1493.12,870.6 1512,866.5 1530.88,860.5 1549.75,861.6 1568.62,854 1587.5,846.3 1606.38,834.5 1625.25,849.8 1644.12,862 1663,885.2 1681.88,917.5 1700.75,962.5 1719.62,1002 1738.5,1048 1757.38,1081.7 1776.25,1102 1795.12,1119 1814,1139 1832.88,1147 1851.75,1147.6 1870.62,1136 1889.5,1124 1908.38,1117.7 1927.25,1095 1946.12,1074 1965,1049 1983.88,1023.8 2002.75,1000.2 2021.62,977.3 2040.5,956.5 2059.38,938.4 2078.25,933.6 2097.12,931.5 2116,924.6 2134.88,923.2 2153.75,916.2 2172.62,914.8 2191.5,909.3 2210.38,907.2 2229.25,905.1 2248.12,902.3 2267,897.5" stroke-width="4.4" stroke-linejoin="round"/>
<polyline points="1361,940 1379.88,937.9 1398.75,928.9 1417.62,929.5 1436.5,934.4 1455.38,923.3 1474.25,921.2 1493.12,924.7 1512,909.4 1530.88,913.6 1549.75,910.8 1568.62,910.8 1587.5,901.8 1606.38,890 1625.25,903.9 1644.12,908.5 1663,938 1681.88,970.1 1700.75,1018 1719.62,1049.8 1738.5,1077 1757.38,1097.7 1776.25,1106.6 1795.12,1121.2 1814,1140.7 1832.88,1149 1851.75,1140.7 1870.62,1137.2 1889.5,1124.7 1908.38,1110.8 1927.25,1095.5 1946.12,1077.5 1965,1057 1983.88,1040 2002.75,1018.3 2021.62,996.7 2040.5,980.8 2059.38,969.7 2078.25,973.1 2097.12,966.9 2116,962.7 2134.88,969.7 2153.75,957.9 2172.62,954.4 2191.5,948.9 2210.38,946.1 2229.25,944 2248.12,944 2267,940.5" stroke-width="4.4" stroke-linejoin="round"/>
<g stroke-width="4.6"><circle cx="1361" cy="896" r="10.7"/><circle cx="1379.88" cy="890" r="10.7"/><circle cx="1398.75" cy="886" r="10.7"/><circle cx="1417.62" cy="884" r="10.7"/><circle cx="1436.5" cy="883.8" r="10.7"/><circle cx="1455.38" cy="880" r="10.7"/><circle cx="1474.25" cy="880" r="10.7"/><circle cx="1493.12" cy="870.6" r="10.7"/><circle cx="1512" cy="866.5" r="10.7"/><circle cx="1530.88" cy="860.5" r="10.7"/><circle cx="1549.75" cy="861.6" r="10.7"/><circle cx="1568.62" cy="854" r="10.7"/><circle cx="1587.5" cy="846.3" r="10.7"/><circle cx="1606.38" cy="834.5" r="10.7"/><circle cx="1625.25" cy="849.8" r="10.7"/><circle cx="1644.12" cy="862" r="10.7"/><circle cx="1663" cy="885.2" r="10.7"/><circle cx="1681.88" cy="917.5" r="10.7"/><circle cx="1700.75" cy="962.5" r="10.7"/><circle cx="1719.62" cy="1002" r="10.7"/><circle cx="1738.5" cy="1048" r="10.7"/><circle cx="1757.38" cy="1081.7" r="10.7"/><circle cx="1776.25" cy="1102" r="10.7"/><circle cx="1795.12" cy="1119" r="10.7"/><circle cx="1814" cy="1139" r="10.7"/><circle cx="1832.88" cy="1147" r="10.7"/><circle cx="1851.75" cy="1147.6" r="10.7"/><circle cx="1870.62" cy="1136" r="10.7"/><circle cx="1889.5" cy="1124" r="10.7"/><circle cx="1908.38" cy="1117.7" r="10.7"/><circle cx="1927.25" cy="1095" r="10.7"/><circle cx="1946.12" cy="1074" r="10.7"/><circle cx="1965" cy="1049" r="10.7"/><circle cx="1983.88" cy="1023.8" r="10.7"/><circle cx="2002.75" cy="1000.2" r="10.7"/><circle cx="2021.62" cy="977.3" r="10.7"/><circle cx="2040.5" cy="956.5" r="10.7"/><circle cx="2059.38" cy="938.4" r="10.7"/><circle cx="2078.25" cy="933.6" r="10.7"/><circle cx="2097.12" cy="931.5" r="10.7"/><circle cx="2116" cy="924.6" r="10.7"/><circle cx="2134.88" cy="923.2" r="10.7"/><circle cx="2153.75" cy="916.2" r="10.7"/><circle cx="2172.62" cy="914.8" r="10.7"/><circle cx="2191.5" cy="909.3" r="10.7"/><circle cx="2210.38" cy="907.2" r="10.7"/><circle cx="2229.25" cy="905.1" r="10.7"/><circle cx="2248.12" cy="902.3" r="10.7"/><circle cx="2267" cy="897.5" r="10.7"/></g>
<g fill="#000" stroke="none"><circle cx="1361" cy="940" r="13.3"/><circle cx="1379.88" cy="937.9" r="13.3"/><circle cx="1398.75" cy="928.9" r="13.3"/><circle cx="1417.62" cy="929.5" r="13.3"/><circle cx="1436.5" cy="934.4" r="13.3"/><circle cx="1455.38" cy="923.3" r="13.3"/><circle cx="1474.25" cy="921.2" r="13.3"/><circle cx="1493.12" cy="924.7" r="13.3"/><circle cx="1512" cy="909.4" r="13.3"/><circle cx="1530.88" cy="913.6" r="13.3"/><circle cx="1549.75" cy="910.8" r="13.3"/><circle cx="1568.62" cy="910.8" r="13.3"/><circle cx="1587.5" cy="901.8" r="13.3"/><circle cx="1606.38" cy="890" r="13.3"/><circle cx="1625.25" cy="903.9" r="13.3"/><circle cx="1644.12" cy="908.5" r="13.3"/><circle cx="1663" cy="938" r="13.3"/><circle cx="1681.88" cy="970.1" r="13.3"/><circle cx="1700.75" cy="1018" r="13.3"/><circle cx="1719.62" cy="1049.8" r="13.3"/><circle cx="1738.5" cy="1077" r="13.3"/><circle cx="1757.38" cy="1097.7" r="13.3"/><circle cx="1776.25" cy="1106.6" r="13.3"/><circle cx="1795.12" cy="1121.2" r="13.3"/><circle cx="1814" cy="1140.7" r="13.3"/><circle cx="1832.88" cy="1149" r="13.3"/><circle cx="1851.75" cy="1140.7" r="13.3"/><circle cx="1870.62" cy="1137.2" r="13.3"/><circle cx="1889.5" cy="1124.7" r="13.3"/><circle cx="1908.38" cy="1110.8" r="13.3"/><circle cx="1927.25" cy="1095.5" r="13.3"/><circle cx="1946.12" cy="1077.5" r="13.3"/><circle cx="1965" cy="1057" r="13.3"/><circle cx="1983.88" cy="1040" r="13.3"/><circle cx="2002.75" cy="1018.3" r="13.3"/><circle cx="2021.62" cy="996.7" r="13.3"/><circle cx="2040.5" cy="980.8" r="13.3"/><circle cx="2059.38" cy="969.7" r="13.3"/><circle cx="2078.25" cy="973.1" r="13.3"/><circle cx="2097.12" cy="966.9" r="13.3"/><circle cx="2116" cy="962.7" r="13.3"/><circle cx="2134.88" cy="969.7" r="13.3"/><circle cx="2153.75" cy="957.9" r="13.3"/><circle cx="2172.62" cy="954.4" r="13.3"/><circle cx="2191.5" cy="948.9" r="13.3"/><circle cx="2210.38" cy="946.1" r="13.3"/><circle cx="2229.25" cy="944" r="13.3"/><circle cx="2248.12" cy="944" r="13.3"/><circle cx="2267" cy="940.5" r="13.3"/></g>
</g>
<g stroke="#000" fill="none" stroke-width="4.1" stroke-linecap="butt">
<path d="M365.5 27H1289.05M365.5 632.5H1289.05M365.5 1238.4H1289.05M380.5 24.95V1255.6M1287 24.95V1255.6"/>
<path d="M1348 27H2271.05M1348 632.5H2271.05M1348 1238.4H2271.05M1363 24.95V1255.6M2269 24.95V1255.6"/>
</g>
<g stroke="#000" stroke-width="4.2" stroke-linecap="butt">
<line x1="366" y1="127.92" x2="380.5" y2="127.92"/>
<line x1="366" y1="228.83" x2="380.5" y2="228.83"/>
<line x1="366" y1="329.75" x2="380.5" y2="329.75"/>
<line x1="366" y1="430.67" x2="380.5" y2="430.67"/>
<line x1="366" y1="531.58" x2="380.5" y2="531.58"/>
<line x1="366" y1="733.48" x2="380.5" y2="733.48"/>
<line x1="366" y1="834.47" x2="380.5" y2="834.47"/>
<line x1="366" y1="935.45" x2="380.5" y2="935.45"/>
<line x1="366" y1="1036.43" x2="380.5" y2="1036.43"/>
<line x1="366" y1="1137.42" x2="380.5" y2="1137.42"/>
<line x1="1348.5" y1="127.92" x2="1363" y2="127.92"/>
<line x1="1348.5" y1="228.83" x2="1363" y2="228.83"/>
<line x1="1348.5" y1="329.75" x2="1363" y2="329.75"/>
<line x1="1348.5" y1="430.67" x2="1363" y2="430.67"/>
<line x1="1348.5" y1="531.58" x2="1363" y2="531.58"/>
<line x1="1348.5" y1="733.48" x2="1363" y2="733.48"/>
<line x1="1348.5" y1="834.47" x2="1363" y2="834.47"/>
<line x1="1348.5" y1="935.45" x2="1363" y2="935.45"/>
<line x1="1348.5" y1="1036.43" x2="1363" y2="1036.43"/>
<line x1="1348.5" y1="1137.42" x2="1363" y2="1137.42"/>
<line x1="531.58" y1="1238.4" x2="531.58" y2="1255.6"/>
<line x1="531.58" y1="632.5" x2="531.58" y2="642.8" stroke-width="3"/>
<line x1="682.67" y1="1238.4" x2="682.67" y2="1255.6"/>
<line x1="682.67" y1="632.5" x2="682.67" y2="642.8" stroke-width="3"/>
<line x1="833.75" y1="1238.4" x2="833.75" y2="1255.6"/>
<line x1="833.75" y1="632.5" x2="833.75" y2="642.8" stroke-width="3"/>
<line x1="984.83" y1="1238.4" x2="984.83" y2="1255.6"/>
<line x1="984.83" y1="632.5" x2="984.83" y2="642.8" stroke-width="3"/>
<line x1="1135.92" y1="1238.4" x2="1135.92" y2="1255.6"/>
<line x1="1135.92" y1="632.5" x2="1135.92" y2="642.8" stroke-width="3"/>
<line x1="1514" y1="1238.4" x2="1514" y2="1255.6"/>
<line x1="1514" y1="632.5" x2="1514" y2="649" stroke-width="4.2"/>
<line x1="1665" y1="1238.4" x2="1665" y2="1255.6"/>
<line x1="1665" y1="632.5" x2="1665" y2="649" stroke-width="4.2"/>
<line x1="1816" y1="1238.4" x2="1816" y2="1255.6"/>
<line x1="1816" y1="632.5" x2="1816" y2="649" stroke-width="4.2"/>
<line x1="1967" y1="1238.4" x2="1967" y2="1255.6"/>
<line x1="1967" y1="632.5" x2="1967" y2="649" stroke-width="4.2"/>
<line x1="2118" y1="1238.4" x2="2118" y2="1255.6"/>
<line x1="2118" y1="632.5" x2="2118" y2="649" stroke-width="4.2"/>
</g>
<g id="ylabels">
<text><tspan x="213.3" y="51.5" font-size="64.6" letter-spacing="-0.58">0.15</tspan></text>
<text><tspan x="213.3" y="152.42" font-size="64.6" letter-spacing="-0.67">0.10</tspan></text>
<text><tspan x="213.3" y="253.33" font-size="64.6" letter-spacing="-0.58">0.05</tspan></text>
<text><tspan x="213.3" y="354.25" font-size="64.6" letter-spacing="-0.67">0.00</tspan></text>
<text><tspan x="192.12" y="455.17" font-size="64.6" letter-spacing="-0.52">-0.05</tspan></text>
<text><tspan x="192.12" y="556.08" font-size="64.6" letter-spacing="-0.58">-0.10</tspan></text>
<text><tspan x="213.3" y="657" font-size="64.6" letter-spacing="-0.58">0.15</tspan></text>
<text><tspan x="213.3" y="757.98" font-size="64.6" letter-spacing="-0.67">0.10</tspan></text>
<text><tspan x="213.3" y="858.97" font-size="64.6" letter-spacing="-0.58">0.05</tspan></text>
<text><tspan x="213.3" y="959.95" font-size="64.6" letter-spacing="-0.67">0.00</tspan></text>
<text><tspan x="192.12" y="1060.93" font-size="64.6" letter-spacing="-0.52">-0.05</tspan></text>
<text><tspan x="192.12" y="1161.92" font-size="64.6" letter-spacing="-0.58">-0.10</tspan></text>
<text><tspan x="192.12" y="1262.9" font-size="64.6" letter-spacing="-0.52">-0.15</tspan></text>
</g>
<g id="xlabels">
<text><tspan x="363.06" y="1346" font-size="64.6">0</tspan></text>
<text><tspan x="513.1" y="1346" font-size="64.6">4</tspan></text>
<text><tspan x="665.06" y="1346" font-size="64.6">8</tspan></text>
<text><tspan x="799.73" y="1346" font-size="64.6" letter-spacing="-1.83">12</tspan></text>
<text><tspan x="950.62" y="1346" font-size="64.6" letter-spacing="-1.1">16</tspan></text>
<text><tspan x="1099.15" y="1346" font-size="64.6" letter-spacing="1">20</tspan></text>
<text><tspan x="1250.05" y="1346" font-size="64.6" letter-spacing="0.48">24</tspan></text>
<text><tspan x="1345.11" y="1346" font-size="64.6">0</tspan></text>
<text><tspan x="1495.15" y="1346" font-size="64.6">4</tspan></text>
<text><tspan x="1647.16" y="1346" font-size="64.6">8</tspan></text>
<text><tspan x="1782.03" y="1346" font-size="64.6" letter-spacing="-1.83">12</tspan></text>
<text><tspan x="1932.62" y="1346" font-size="64.6" letter-spacing="-0.5">16</tspan></text>
<text><tspan x="2081.05" y="1346" font-size="64.6" letter-spacing="1.2">20</tspan></text>
<text><tspan x="2231.55" y="1346" font-size="64.6" letter-spacing="0.47">24</tspan></text>
</g>
<g id="panel-labels">
<text><tspan x="409.2" y="107.1" font-size="64.5" letter-spacing="-0.84">(a) </tspan><tspan x="501.27" y="107.1" font-size="64.5" letter-spacing="-0.85">Above-canopy </tspan><tspan x="916.33" y="107.1" font-size="64.5" letter-spacing="-0.52">leaf-on</tspan></text>
<text><tspan x="1391.7" y="105.1" font-size="64.5" letter-spacing="-0.84">(b) </tspan><tspan x="1484.08" y="105.1" font-size="64.5" letter-spacing="-0.88">Above-canopy </tspan><tspan x="1899.33" y="105.1" font-size="64.5" letter-spacing="-0.49">leaf-off</tspan></text>
<text><tspan x="415.8" y="710" font-size="64.5" letter-spacing="-1.08">(c) </tspan><tspan x="503.55" y="710" font-size="64.5" letter-spacing="-0.87">Below-canopy </tspan><tspan x="911.42" y="710" font-size="64.5" letter-spacing="-0.54">leaf-on</tspan></text>
<text><tspan x="1385" y="710" font-size="64.5" letter-spacing="-0.84">(d) </tspan><tspan x="1476.85" y="710" font-size="64.5" letter-spacing="-0.89">Below-canopy </tspan><tspan x="1884.42" y="710" font-size="64.5" letter-spacing="-0.26">leaf-off</tspan></text>
</g>
<text id="xtitle"><tspan x="1191.65" y="1438.1" font-size="75.5" letter-spacing="1.24">Local </tspan><tspan x="1395.78" y="1438.1" font-size="75.5" letter-spacing="-0.18">time </tspan><tspan x="1560.28" y="1438.1" font-size="75.5" letter-spacing="-2.6">(h)</tspan></text>
<g transform="translate(78 1030) rotate(-90)">
<text id="ytitle"><tspan x="-3" y="2.2" font-size="75" style="font-family:'Liberation Serif',serif">θ</tspan><tspan x="40.05" y="23.5" font-size="50">v </tspan><tspan x="79.17" y="0" font-size="75.5" letter-spacing="-0.06">gradient </tspan><tspan x="371.77" y="0" font-size="75.5">(</tspan><tspan x="395.17" y="-38" font-size="50">o</tspan><tspan x="424.12" y="0" font-size="75.5">C </tspan><tspan x="498.8" y="0" font-size="75.5">m</tspan><tspan x="564.25" y="-38" font-size="50">-</tspan><tspan x="577.25" y="-38" font-size="50">1</tspan><tspan x="608.9" y="0" font-size="75.5">)</tspan></text>
</g>
</svg>
</body></html>
